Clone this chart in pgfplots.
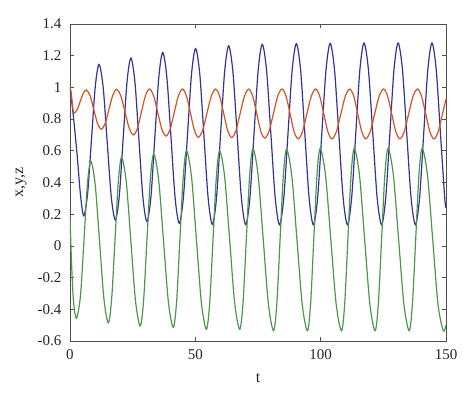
\documentclass[border=0pt]{standalone}
\usepackage{pgfplots}
\pgfplotsset{compat=1.18}
\usepackage{fontspec}
\setmainfont{Liberation Serif}
\definecolor{cblue}{RGB}{52,52,150}
\definecolor{cred}{RGB}{214,82,36}
\definecolor{cgreen}{RGB}{78,150,78}
\definecolor{axgray}{RGB}{80,80,80}
\begin{document}
\begin{tikzpicture}
\path[use as bounding box] (-70pt,-57pt) rectangle (404pt,341pt);
\begin{axis}[
  scale only axis, width=376pt, height=317pt,
  xmin=0, xmax=150, ymin=-0.6, ymax=1.4,
  xtick={0,50,100,150}, xticklabels={0,50,100,150},
  ytick={-0.6,-0.4,-0.2,0,0.2,0.4,0.6,0.8,1,1.2,1.4},
  yticklabels={-0.6,-0.4,-0.2,0,0.2,0.4,0.6,0.8,1,1.2,1.4},
  tick align=inside, major tick length=4pt,
  axis line style={axgray, line width=0.9pt},
  every tick/.style={axgray, line width=0.7pt},
  ticklabel style={font=\fontsize{15}{17}\selectfont, text=black!85},
  yticklabel style={xshift=-5pt},
  xticklabel style={yshift=-5pt},
  xlabel={t}, ylabel={x,y,z},
  label style={font=\fontsize{16}{18}\selectfont, text=black!85},
  xlabel style={at={(axis description cs:0.5,0)}, anchor=north, yshift=-29pt},
  ylabel style={at={(axis description cs:0,0.5)}, anchor=south, xshift=0pt, yshift=40pt},
  every axis plot/.append style={line width=1.2pt, smooth, tension=0.5},
]
\addplot[cblue] coordinates {
(0,1.0)(1.4,0.81)(2.8,0.58)(4.2,0.32)(5.5,0.19)
(7.03,0.33)(8.55,0.668)(10.08,1.005)(11.6,1.145)
(13.23,1.001)(14.85,0.654)(16.48,0.307)(18.1,0.163)
(19.65,0.313)(21.2,0.674)(22.75,1.035)(24.3,1.185)
(25.9,1.034)(27.5,0.669)(29.1,0.304)(30.7,0.153)
(32.28,0.309)(33.85,0.687)(35.43,1.064)(37.0,1.22)
(38.65,1.062)(40.3,0.682)(41.95,0.301)(43.6,0.143)
(45.23,0.304)(46.85,0.694)(48.48,1.084)(50.1,1.245)
(51.78,1.083)(53.45,0.691)(55.13,0.298)(56.8,0.136)
(58.43,0.300)(60.05,0.699)(61.68,1.097)(63.3,1.262)
(65.0,1.097)(66.7,0.698)(68.4,0.299)(70.1,0.134)
(71.75,0.300)(73.4,0.703)(75.05,1.105)(76.7,1.272)
(78.43,1.105)(80.15,0.703)(81.88,0.300)(83.6,0.133)
(85.28,0.300)(86.95,0.705)(88.63,1.109)(90.3,1.276)
(92.0,1.109)(93.7,0.705)(95.4,0.300)(97.1,0.133)
(98.78,0.301)(100.45,0.706)(102.13,1.110)(103.8,1.278)
(105.53,1.110)(107.25,0.706)(108.98,0.301)(110.7,0.133)
(112.35,0.301)(114.0,0.707)(115.65,1.112)(117.3,1.28)
(119.05,1.112)(120.8,0.707)(122.55,0.301)(124.3,0.133)
(125.95,0.301)(127.6,0.707)(129.25,1.112)(130.9,1.28)
(132.63,1.112)(134.35,0.707)(136.08,0.301)(137.8,0.133)
(139.45,0.301)(141.1,0.707)(142.75,1.112)(144.4,1.28)
(146.1,1.112)(147.8,0.707)(149.5,0.301)(150,0.24)
};
\addplot[cred] coordinates {
(0,1.0)(0.4,0.976)(0.8,0.918)(1.2,0.861)(1.6,0.837)
(2.83,0.858)(4.05,0.91)(5.28,0.962)(6.5,0.984)
(8.0,0.948)(9.5,0.86)(11.0,0.772)(12.5,0.736)
(14.03,0.773)(15.55,0.862)(17.08,0.951)(18.6,0.988)
(20.28,0.946)(21.95,0.844)(23.63,0.742)(25.3,0.70)
(26.9,0.742)(28.5,0.845)(30.1,0.948)(31.7,0.99)
(33.35,0.947)(35.0,0.842)(36.65,0.736)(38.3,0.693)
(39.95,0.736)(41.6,0.842)(43.25,0.947)(44.9,0.99)
(46.48,0.945)(48.05,0.838)(49.63,0.73)(51.2,0.685)
(52.93,0.73)(54.65,0.838)(56.38,0.945)(58.1,0.99)
(59.7,0.945)(61.3,0.837)(62.9,0.728)(64.5,0.683)
(66.2,0.728)(67.9,0.837)(69.6,0.945)(71.3,0.99)
(72.9,0.945)(74.5,0.835)(76.1,0.725)(77.7,0.68)
(79.43,0.725)(81.15,0.835)(82.88,0.945)(84.6,0.99)
(86.2,0.944)(87.8,0.833)(89.4,0.721)(91.0,0.675)
(92.75,0.721)(94.5,0.833)(96.25,0.944)(98.0,0.99)
(99.63,0.944)(101.25,0.833)(102.88,0.721)(104.5,0.675)
(106.28,0.721)(108.05,0.833)(109.83,0.944)(111.6,0.99)
(113.2,0.944)(114.8,0.833)(116.4,0.721)(118.0,0.675)
(119.78,0.721)(121.55,0.833)(123.33,0.944)(125.1,0.99)
(126.73,0.944)(128.35,0.833)(129.98,0.721)(131.6,0.675)
(133.35,0.721)(135.1,0.833)(136.85,0.944)(138.6,0.99)
(140.25,0.944)(141.9,0.833)(143.55,0.721)(145.2,0.675)
(146.9,0.721)(148.6,0.833)(150,0.925)
};
\addplot[cgreen] coordinates {
(0,0.18)(0.6,-0.1)(1.3,-0.33)(2.0,-0.43)(2.8,-0.45)
(4.2,-0.31)(5.6,0.04)(6.95,0.39)(8.3,0.535)
(10.05,0.386)(11.8,0.025)(13.55,-0.336)(15.3,-0.485)
(16.63,-0.332)(17.95,0.037)(19.28,0.406)(20.6,0.559)
(22.45,0.403)(24.3,0.027)(26.15,-0.349)(28.0,-0.505)
(29.35,-0.346)(30.7,0.038)(32.05,0.421)(33.4,0.58)
(35.35,0.42)(37.3,0.033)(39.25,-0.354)(41.2,-0.514)
(42.53,-0.351)(43.85,0.043)(45.18,0.437)(46.5,0.60)
(48.48,0.435)(50.45,0.037)(52.43,-0.361)(54.4,-0.526)
(55.73,-0.361)(57.05,0.037)(58.38,0.435)(59.7,0.60)
(61.7,0.435)(63.7,0.037)(65.7,-0.361)(67.7,-0.526)
(69.03,-0.359)(70.35,0.044)(71.68,0.446)(73.0,0.613)
(75.05,0.445)(77.1,0.039)(79.15,-0.367)(81.2,-0.535)
(82.5,-0.367)(83.8,0.038)(85.1,0.442)(86.4,0.61)
(88.48,0.442)(90.55,0.038)(92.63,-0.367)(94.7,-0.535)
(95.98,-0.367)(97.25,0.04)(98.53,0.447)(99.8,0.615)
(101.93,0.447)(104.05,0.04)(106.18,-0.367)(108.3,-0.535)
(109.58,-0.367)(110.85,0.04)(112.13,0.447)(113.4,0.615)
(115.48,0.447)(117.55,0.04)(119.63,-0.367)(121.7,-0.535)
(123.0,-0.367)(124.3,0.04)(125.6,0.447)(126.9,0.615)
(129.0,0.447)(131.1,0.04)(133.2,-0.367)(135.3,-0.535)
(136.6,-0.367)(137.9,0.04)(139.2,0.447)(140.5,0.615)
(142.6,0.447)(144.7,0.04)(146.8,-0.367)(148.9,-0.535)
(150,-0.50)
};
\end{axis}
\end{tikzpicture}
\end{document}
